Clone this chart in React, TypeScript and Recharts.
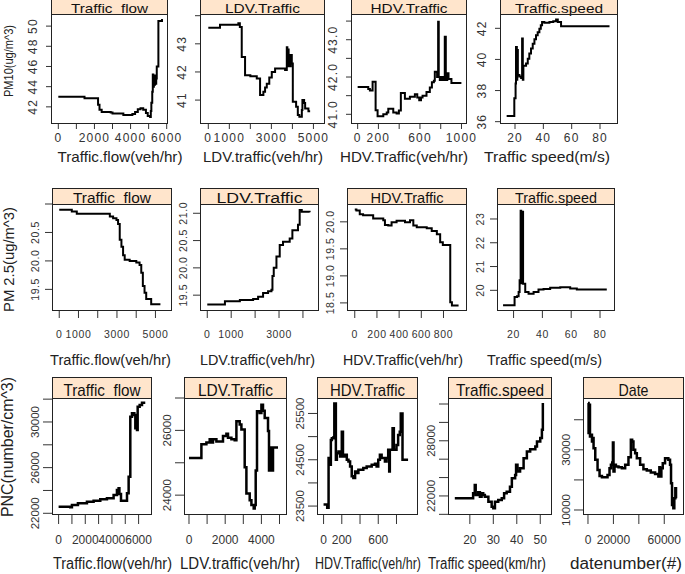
import { Line, LineChart, XAxis, YAxis } from "recharts";

const FONT = '"Liberation Sans", Arial, sans-serif';

// ---- PM10 row: partial dependence, x then y
const pm10FlowX = [0, 1450, 2200, 2280, 2400, 2900, 3000, 3600, 4100, 4250, 4400, 4550, 4700, 4850, 4950, 5080, 5120, 5150, 5200, 5230, 5260, 5290, 5320, 5350, 5380, 5420, 5450, 5540, 5740];
const pm10FlowY = [43.0, 42.85, 42.2, 41.7, 41.5, 41.45, 41.35, 41.2, 41.3, 41.5, 41.75, 41.85, 41.7, 41.4, 41.1, 41.0, 41.6, 42.4, 43.5, 45.2, 44.0, 45.0, 44.2, 45.1, 44.3, 44.8, 46.0, 50.5, 50.7];

const pm10LdvX = [0, 557, 1429, 1500, 1590, 1748, 2000, 2305, 2462, 2619, 2700, 2781, 2900, 3019, 3176, 3495, 3652, 3733, 3760, 3790, 3820, 3850, 3880, 3920, 3971, 4019, 4176, 4257, 4330, 4448, 4476, 4557, 4605, 4762, 4843];
const pm10LdvY = [43.57, 43.68, 43.73, 43.6, 42.53, 41.88, 41.85, 41.77, 41.18, 41.3, 41.45, 41.58, 41.8, 42.0, 42.12, 42.12, 42.07, 42.88, 42.2, 42.8, 42.3, 42.6, 42.2, 42.6, 42.3, 40.94, 40.76, 40.47, 40.41, 40.65, 41.0, 40.9, 40.7, 40.6, 40.6];

const pm10HdvX = [0, 102, 118, 144, 173, 192, 247, 280, 295, 343, 375, 397, 416, 439, 455, 503, 551, 574, 593, 610, 625, 663, 695, 715, 734, 743, 765, 775, 781, 791, 807, 823, 839, 849, 863, 875, 903, 999];
const pm10HdvY = [41.73, 41.68, 41.64, 41.87, 41.11, 40.95, 41.0, 41.05, 41.15, 41.05, 41.02, 41.1, 41.57, 41.57, 41.42, 41.47, 41.54, 41.45, 41.38, 41.45, 41.5, 41.6, 41.72, 41.86, 41.9, 42.14, 42.0, 43.48, 42.0, 41.92, 42.0, 41.92, 43.08, 41.92, 42.1, 41.95, 41.84, 41.84];

const pm10SpeedX = [14.1, 19.5, 20.4, 20.7, 21.3, 21.6, 22.0, 23.1, 24.3, 25.0, 25.5, 25.9, 27.8, 29.0, 30.1, 31.3, 32.5, 33.7, 34.8, 36.0, 37.2, 38.2, 39.1, 40.7, 44.3, 47.0, 49.0, 50.2, 52.5, 86.7];
const pm10SpeedY = [36.37, 37.5, 38.46, 40.8, 38.7, 40.6, 39.0, 38.9, 38.8, 41.35, 38.7, 39.6, 39.74, 40.05, 40.38, 40.7, 41.0, 41.3, 41.56, 41.75, 41.98, 42.2, 42.41, 42.35, 42.4, 42.45, 42.56, 42.4, 42.13, 42.13];

// ---- PM2.5 row
const pm25FlowX = [0, 653, 912, 2629, 2800, 2974, 3057, 3144, 3232, 3318, 3402, 3660, 4005, 4175, 4263, 4345, 4433, 4520, 4778, 5258];
const pm25FlowY = [20.9, 20.87, 20.83, 20.78, 20.75, 20.72, 20.65, 20.37, 20.25, 20.1, 20.02, 20.0, 19.97, 19.93, 19.79, 19.56, 19.44, 19.33, 19.24, 19.24];

const pm25LdvX = [0, 738, 1363, 1917, 2125, 2333, 2542, 2683, 2725, 2779, 2892, 3029, 3167, 3446, 3558, 3792, 3863, 3950, 4279];
const pm25LdvY = [19.33, 19.39, 19.41, 19.43, 19.47, 19.54, 19.57, 19.6, 19.85, 20.0, 20.21, 20.42, 20.48, 20.54, 20.69, 20.79, 21.06, 21.03, 21.02];

const pm25HdvX = [0, 15, 45, 75, 166, 257, 272, 302, 332, 377, 453, 498, 528, 559, 649, 694, 740, 770, 794, 845, 861, 876, 936];
const pm25HdvY = [20.23, 20.21, 20.14, 20.12, 20.06, 20.03, 19.94, 19.93, 19.99, 20.02, 19.99, 20.03, 19.93, 19.9, 19.88, 19.83, 19.77, 19.62, 19.57, 19.57, 18.51, 18.45, 18.45];

const pm25SpeedX = [12.7, 20.7, 22.4, 23.5, 24.2, 24.9, 25.3, 25.6, 26.0, 26.3, 26.6, 28.1, 30.4, 32.7, 33.9, 37.3, 40.8, 45.4, 52.4, 59.3, 63.9, 84.7];
const pm25SpeedY = [19.37, 19.72, 19.75, 19.93, 20.42, 23.35, 20.3, 23.3, 20.4, 23.3, 20.28, 19.93, 19.86, 19.86, 19.93, 20.03, 20.05, 20.11, 20.13, 20.08, 20.03, 20.03];

// ---- PNC row
const pncFlowX = [0, 875, 1000, 1450, 2125, 2625, 3125, 3625, 4125, 4375, 4500, 4560, 4680, 5000, 5130, 5253, 5378, 5503, 5680, 5755, 5880, 5930, 6080, 6255, 6500];
const pncFlowY = [22577, 22525, 22726, 22875, 23016, 23103, 23226, 23314, 23603, 24041, 24190, 23690, 23103, 23103, 23752, 25207, 30465, 30763, 30614, 29449, 29300, 31341, 31490, 31692, 31692];

const pncLdvX = [0, 591, 685, 961, 1144, 1238, 1326, 1514, 1878, 2066, 2155, 2343, 2525, 2619, 2801, 2895, 3077, 3171, 3354, 3448, 3575, 3630, 3685, 3757, 3906, 4000, 4088, 4182, 4365, 4420, 4497, 4552, 4641, 4917];
const pncLdvY = [25146, 25146, 25573, 25622, 25726, 25622, 25726, 25653, 25826, 25897, 25774, 25726, 25695, 26284, 26183, 26030, 24860, 24049, 23845, 23692, 23591, 23692, 24759, 26588, 26537, 26793, 26610, 26386, 25979, 24759, 25470, 24759, 25470, 25470];

const pncHdvX = [0, 40, 55, 65, 80, 91, 109, 118, 135, 146, 164, 182, 200, 213, 237, 255, 273, 291, 309, 327, 346, 364, 382, 400, 436, 473, 528, 564, 582, 600, 618, 637, 673, 691, 709, 720, 727, 746, 757, 771, 800, 818, 836, 847, 862, 866, 927];
const pncHdvY = [23536, 23466, 24536, 24393, 24928, 24964, 24986, 25714, 24500, 24643, 24678, 24571, 25106, 24571, 24607, 24500, 24464, 24357, 24142, 24107, 24249, 24214, 24286, 24286, 24321, 24357, 24393, 24414, 24357, 24500, 24607, 24536, 24464, 24536, 24714, 24249, 24714, 24714, 25179, 24714, 24821, 25035, 25107, 25500, 25500, 24500, 24500];

const pncSpeedX = [13.6, 21.4, 22.1, 22.5, 23.6, 24.3, 25.0, 25.7, 26.4, 27.9, 29.3, 30.0, 30.7, 32.1, 33.6, 34.6, 35.7, 37.1, 37.9, 39.3, 39.7, 40.3, 41.4, 42.9, 44.3, 45.7, 47.9, 48.6, 50.0, 50.7, 51.1];
const pncSpeedY = [21750, 22290, 23200, 22110, 22400, 21924, 22290, 22110, 21924, 21380, 20833, 20650, 21380, 21564, 21750, 22290, 22470, 23014, 23930, 24290, 25381, 24650, 25020, 26111, 26831, 27090, 27376, 27921, 28292, 29198, 32110];

const pncDateX = [0, 470, 1020, 1570, 2350, 3140, 3920, 4390, 5730, 7530, 9100, 10980, 13570, 15370, 16940, 18040, 19060, 19610, 20080, 20860, 21960, 24000, 26670, 29250, 31840, 33730, 34750, 35760, 37100, 38430, 41020, 43610, 46270, 49410, 52780, 55370, 56160, 56710, 57730, 58820, 60630, 63220, 64550, 65330, 66120, 67140, 67920, 68710, 69250];
const pncDateY = [45567, 35567, 45000, 34433, 35000, 32767, 33900, 30567, 26667, 23333, 21333, 20889, 20889, 21667, 23900, 25000, 25778, 32433, 22778, 25000, 24444, 24222, 23900, 25000, 27567, 33333, 32800, 30000, 28889, 27222, 25000, 23556, 23111, 22444, 22000, 21111, 24222, 21111, 23900, 25556, 27222, 26667, 25000, 18889, 11667, 10556, 13889, 17222, 13889];

// ---- tick positions and the ones that carry a label
const flowTicks7 = [0, 1000, 2000, 3000, 4000, 5000, 6000];
const flowLabels7 = [0, 2000, 4000, 6000];
const flowTicks6 = [0, 1000, 2000, 3000, 4000, 5000];
const flowLabels6 = [0, 1000, 3000, 5000];
const ldvTicks5 = [0, 1000, 2000, 3000, 4000];
const ldvLabels5 = [0, 1000, 3000];
const pncLdvLabels = [0, 2000, 4000];
const hdvTicks1000 = [0, 200, 400, 600, 800, 1000];
const hdvLabels1000 = [0, 200, 600, 1000];
const hdvTicks800 = [0, 200, 400, 600, 800];
const hdvLabels800 = [0, 200, 600];
const speedTicks = [20, 40, 60, 80];
const speedKmTicks = [20, 30, 40, 50];
const dateTicks = [0, 20000, 40000, 60000];
const dateLabels = [0, 20000, 60000];

const pm10FlowYTicks = [42, 44, 46, 48, 50];
const pm10LdvYTicks = [41, 42, 43, 44];
const pm10LdvYLabels = [41, 42, 43];
const pm10HdvYTicks = [41, 41.5, 42, 42.5, 43, 43.5];
const pm10HdvYLabels = [41, 42, 43];
const pm10SpeedYTicks = [36, 38, 40, 42];
const pm25FlowYTicks = [19.5, 20, 20.5, 21];
const pm25FlowYLabels = [19.5, 20, 20.5];
const pm25LdvYTicks = [19.5, 20, 20.5, 21];
const pm25HdvYTicks = [18.5, 19, 19.5, 20];
const pm25SpeedYTicks = [20, 21, 22, 23];
const pncFlowYTicks = [22000, 24000, 26000, 28000, 30000, 32000];
const pncFlowYLabels = [22000, 26000, 30000];
const pncLdvYTicks = [24000, 25000, 26000, 27000];
const pncLdvYLabels = [24000, 26000];
const pncHdvYTicks = [23500, 24000, 24500, 25000, 25500];
const pncHdvYLabels = [23500, 24500, 25500];
const pncSpeedYTicks = [20000, 22000, 24000, 26000, 28000, 30000, 32000];
const pncSpeedYLabels = [22000, 28000];
const pncDateYTicks = [10000, 20000, 30000, 40000];
const pncDateYLabels = [10000, 30000];

type Row = {
  stripTop: number; stripBase: number; stripFont: number;
  xFont: number; yFont: number; ls: number;
  tickLen: number; xGap: number; yOff: number; stroke: number;
};

const ROW1: Row = { stripTop: -3, stripBase: 12.5, stripFont: 13, xFont: 12, yFont: 12, ls: 1.2, tickLen: 5, xGap: 14, yOff: 14, stroke: 2 };
const ROW2: Row = { stripTop: 188, stripBase: 202.5, stripFont: 14, xFont: 10.5, yFont: 10.5, ls: 0.6, tickLen: 7, xGap: 23, yOff: 13, stroke: 2 };
const ROW3: Row = { stripTop: 377, stripBase: 395.5, stripFont: 17, xFont: 12, yFont: 11.5, ls: 0, tickLen: 9, xGap: 25, yOff: 12.5, stroke: 2.5 };

type Panel = {
  strip: string; stripW: number; row: Row;
  box: [number, number, number, number];
  xs: number[]; ys: number[];
  xDomain: [number, number]; yDomain: [number, number];
  xTicks: number[]; xLabels: number[];
  yTicks: number[]; yLabels: number[]; yDec: number;
};

const PANELS: Panel[] = [
  { strip: "Traffic  flow", stripW: 77, row: ROW1, box: [51, 14, 168, 124], xs: pm10FlowX, ys: pm10FlowY, xDomain: [-405, 6072], yDomain: [40.3, 51.2], xTicks: flowTicks7, xLabels: flowLabels7, yTicks: pm10FlowYTicks, yLabels: pm10FlowYTicks, yDec: 0 },
  { strip: "LDV.Traffic", stripW: 75, row: ROW1, box: [200, 14, 325, 124], xs: pm10LdvX, ys: pm10LdvY, xDomain: [-395, 5550], yDomain: [40.15, 44.06], xTicks: flowTicks6, xLabels: flowLabels6, yTicks: pm10LdvYTicks, yLabels: pm10LdvYLabels, yDec: 0 },
  { strip: "HDV.Traffic", stripW: 77, row: ROW1, box: [351, 14, 467, 124], xs: pm10HdvX, ys: pm10HdvY, xDomain: [-64, 1053], yDomain: [40.74, 43.69], xTicks: hdvTicks1000, xLabels: hdvLabels1000, yTicks: pm10HdvYTicks, yLabels: pm10HdvYLabels, yDec: 1 },
  { strip: "Traffic.speed", stripW: 88, row: ROW1, box: [500, 14, 618, 124], xs: pm10SpeedX, ys: pm10SpeedY, xDomain: [9.4, 92.7], yDomain: [35.85, 42.92], xTicks: speedTicks, xLabels: speedTicks, yTicks: pm10SpeedYTicks, yLabels: pm10SpeedYTicks, yDec: 0 },

  { strip: "Traffic  flow", stripW: 78, row: ROW2, box: [52, 204, 172, 311], xs: pm25FlowX, ys: pm25FlowY, xDomain: [-376, 5860], yDomain: [19.12, 21.0], xTicks: flowTicks6, xLabels: flowLabels6, yTicks: pm25FlowYTicks, yLabels: pm25FlowYLabels, yDec: 1 },
  { strip: "LDV.Traffic", stripW: 86, row: ROW2, box: [200, 204, 319, 311], xs: pm25LdvX, ys: pm25LdvY, xDomain: [-304, 4671], yDomain: [19.21, 21.17], xTicks: ldvTicks5, xLabels: ldvLabels5, yTicks: pm25LdvYTicks, yLabels: pm25LdvYTicks, yDec: 1 },
  { strip: "HDV.Traffic", stripW: 73, row: ROW2, box: [347, 204, 467, 311], xs: pm25HdvX, ys: pm25HdvY, xDomain: [-70, 1012], yDomain: [18.35, 20.33], xTicks: hdvTicks800, xLabels: hdvTicks800, yTicks: pm25HdvYTicks, yLabels: pm25HdvYTicks, yDec: 1 },
  { strip: "Traffic.speed", stripW: 82, row: ROW2, box: [497, 204, 615, 311], xs: pm25SpeedX, ys: pm25SpeedY, xDomain: [8.5, 90.4], yDomain: [19.13, 23.63], xTicks: speedTicks, xLabels: speedTicks, yTicks: pm25SpeedYTicks, yLabels: pm25SpeedYTicks, yDec: 0 },

  { strip: "Traffic  flow", stripW: 77, row: ROW3, box: [52, 398, 152, 515], xs: pncFlowX, ys: pncFlowY, xDomain: [-495, 7005], yDomain: [21850, 32100], xTicks: flowTicks7, xLabels: flowLabels7, yTicks: pncFlowYTicks, yLabels: pncFlowYLabels, yDec: 0 },
  { strip: "LDV.Traffic", stripW: 75, row: ROW3, box: [184, 398, 287, 515], xs: pncLdvX, ys: pncLdvY, xDomain: [-276, 5414], yDomain: [23387, 27000], xTicks: flowTicks6, xLabels: pncLdvLabels, yTicks: pncLdvYTicks, yLabels: pncLdvYLabels, yDec: 0 },
  { strip: "HDV.Traffic", stripW: 75, row: ROW3, box: [317, 398, 418, 515], xs: pncHdvX, ys: pncHdvY, xDomain: [-72, 1036], yDomain: [23307, 25834], xTicks: hdvTicks800, xLabels: hdvLabels800, yTicks: pncHdvYTicks, yLabels: pncHdvYLabels, yDec: 0 },
  { strip: "Traffic.speed", stripW: 88, row: ROW3, box: [448, 398, 552, 515], xs: pncSpeedX, ys: pncSpeedY, xDomain: [10.7, 55], yDomain: [19928, 32654], xTicks: speedKmTicks, xLabels: speedKmTicks, yTicks: pncSpeedYTicks, yLabels: pncSpeedYLabels, yDec: 0 },
  { strip: "Date", stripW: 30, row: ROW3, box: [583, 398, 684, 515], xs: pncDateX, ys: pncDateY, xDomain: [-3920, 75530], yDomain: [8333, 47233], xTicks: dateTicks, xLabels: dateLabels, yTicks: pncDateYTicks, yLabels: pncDateYLabels, yDec: 0 },
];

// [text, centre x, baseline y, font size, text length]
const X_TITLES: [string, number, number, number, number][] = [
  ["Traffic.flow(veh/hr)", 120, 162, 15, 125],
  ["LDV.traffic(veh/hr)", 263, 162, 15, 120],
  ["HDV.Traffic(veh/hr)", 404, 162, 15, 128],
  ["Traffic speed(m/s)", 547, 162, 15, 126],
  ["Traffic.flow(veh/hr)", 110.5, 365, 15.5, 121],
  ["LDV.traffic(veh/hr)", 257.5, 365, 15.5, 115],
  ["HDV.Traffic(veh/hr)", 403, 365, 15.5, 120],
  ["Traffic speed(m/s)", 544.5, 365, 15.5, 115],
  ["Traffic.flow(veh/hr)", 112.5, 569, 16, 119],
  ["LDV.traffic(veh/hr)", 240, 569, 16, 120],
  ["HDV.Traffic(veh/hr)", 368, 569, 16, 106],
  ["Traffic speed(km/hr)", 487, 569, 16, 118],
  ["datenumber(#)", 626, 569, 16, 112],
];

// [text, baseline x, centre y, font size, text length]
const Y_TITLES: [string, number, number, number, number][] = [
  ["PM10(ug/m^3)", 13, 61, 13.5, 72],
  ["PM 2.5(ug/m^3)", 13.5, 259.5, 14, 105],
  ["PNC(number/cm^3)", 13, 447, 16, 140],
];

const YW = 40;
const XH = 40;
const RP = 30; // room on the right for end tick labels
const TP = 16; // room above the box for top tick labels

const has = (list: number[], v: number) => list.some((l) => Math.abs(l - v) < 1e-6);

function PanelChart({ p }: { p: Panel }) {
  const [l, t, r, b] = p.box;
  const w = r - l;
  const h = b - t;
  const s = p.row;
  const data = p.xs.map((x, i) => ({ x, y: p.ys[i] }));

  const xTick = (props: any) => {
    const v = props.payload.value;
    if (!has(p.xLabels, v)) return <g />;
    return (
      <text
        x={props.x}
        y={TP + h + s.xGap + s.xFont * 0.36}
        textAnchor="middle"
        fontSize={s.xFont}
        letterSpacing={s.ls}
        fontFamily={FONT}
        fill="#333"
      >
        {String(v)}
      </text>
    );
  };

  const yTick = (props: any) => {
    const v = props.payload.value;
    if (!has(p.yLabels, v)) return <g />;
    const tx = YW - s.yOff;
    return (
      <text
        x={tx}
        y={props.y}
        transform={`rotate(-90 ${tx} ${props.y})`}
        textAnchor="middle"
        fontSize={s.yFont}
        letterSpacing={s.ls}
        fontFamily={FONT}
        fill="#333"
      >
        {v.toFixed(p.yDec)}
      </text>
    );
  };

  return (
    <div style={{ position: "absolute", left: l - YW, top: t - TP }}>
      <LineChart
        width={w + YW + RP}
        height={h + XH + TP}
        data={data}
        margin={{ top: TP, right: RP, bottom: 0, left: 0 }}
      >
        <XAxis
          dataKey="x"
          type="number"
          domain={p.xDomain}
          ticks={p.xTicks}
          interval={0}
          allowDataOverflow
          axisLine={false}
          tickSize={s.tickLen}
          tickLine={{ stroke: "#333" }}
          height={XH}
          tick={xTick}
        />
        <YAxis
          type="number"
          domain={p.yDomain}
          ticks={p.yTicks}
          interval={0}
          allowDataOverflow
          axisLine={false}
          tickSize={s.tickLen}
          tickLine={{ stroke: "#333" }}
          width={YW}
          tick={yTick}
        />
        <Line
          dataKey="y"
          type="stepAfter"
          stroke="#000"
          strokeWidth={s.stroke}
          dot={false}
          isAnimationActive={false}
        />
      </LineChart>
    </div>
  );
}

export default function App() {
  return (
    <div
      style={{
        position: "absolute",
        left: 0,
        top: 0,
        width: 685,
        height: 574,
        overflow: "hidden",
        background: "#fff",
      }}
    >
      {PANELS.map((p, i) => (
        <PanelChart key={i} p={p} />
      ))}
      <svg
        width={685}
        height={574}
        style={{ position: "absolute", left: 0, top: 0, pointerEvents: "none" }}
      >
        {PANELS.map((p, i) => {
          const [l, t, r, b] = p.box;
          const s = p.row;
          return (
            <g key={i}>
              <rect
                x={l + 0.5}
                y={s.stripTop + 0.5}
                width={r - l - 1}
                height={t - s.stripTop}
                fill="#ffe5cc"
                stroke="#222"
              />
              <text
                x={(l + r) / 2}
                y={s.stripBase}
                textAnchor="middle"
                fontSize={s.stripFont}
                fontFamily={FONT}
                fill="#111"
                textLength={p.stripW}
                lengthAdjust="spacingAndGlyphs"
                style={{ whiteSpace: "pre" }}
              >
                {p.strip}
              </text>
              <rect
                x={l + 0.5}
                y={t + 0.5}
                width={r - l - 1}
                height={b - t - 1}
                fill="none"
                stroke="#222"
              />
            </g>
          );
        })}
        {X_TITLES.map(([txt, cx, by, fs, len], i) => (
          <text
            key={`x${i}`}
            x={cx}
            y={by}
            textAnchor="middle"
            fontSize={fs}
            fontFamily={FONT}
            fill="#222"
            textLength={len}
            lengthAdjust="spacingAndGlyphs"
          >
            {txt}
          </text>
        ))}
        {Y_TITLES.map(([txt, bx, cy, fs, len], i) => (
          <text
            key={`y${i}`}
            x={bx}
            y={cy}
            transform={`rotate(-90 ${bx} ${cy})`}
            textAnchor="middle"
            fontSize={fs}
            fontFamily={FONT}
            fill="#222"
            textLength={len}
            lengthAdjust="spacingAndGlyphs"
          >
            {txt}
          </text>
        ))}
      </svg>
    </div>
  );
}
